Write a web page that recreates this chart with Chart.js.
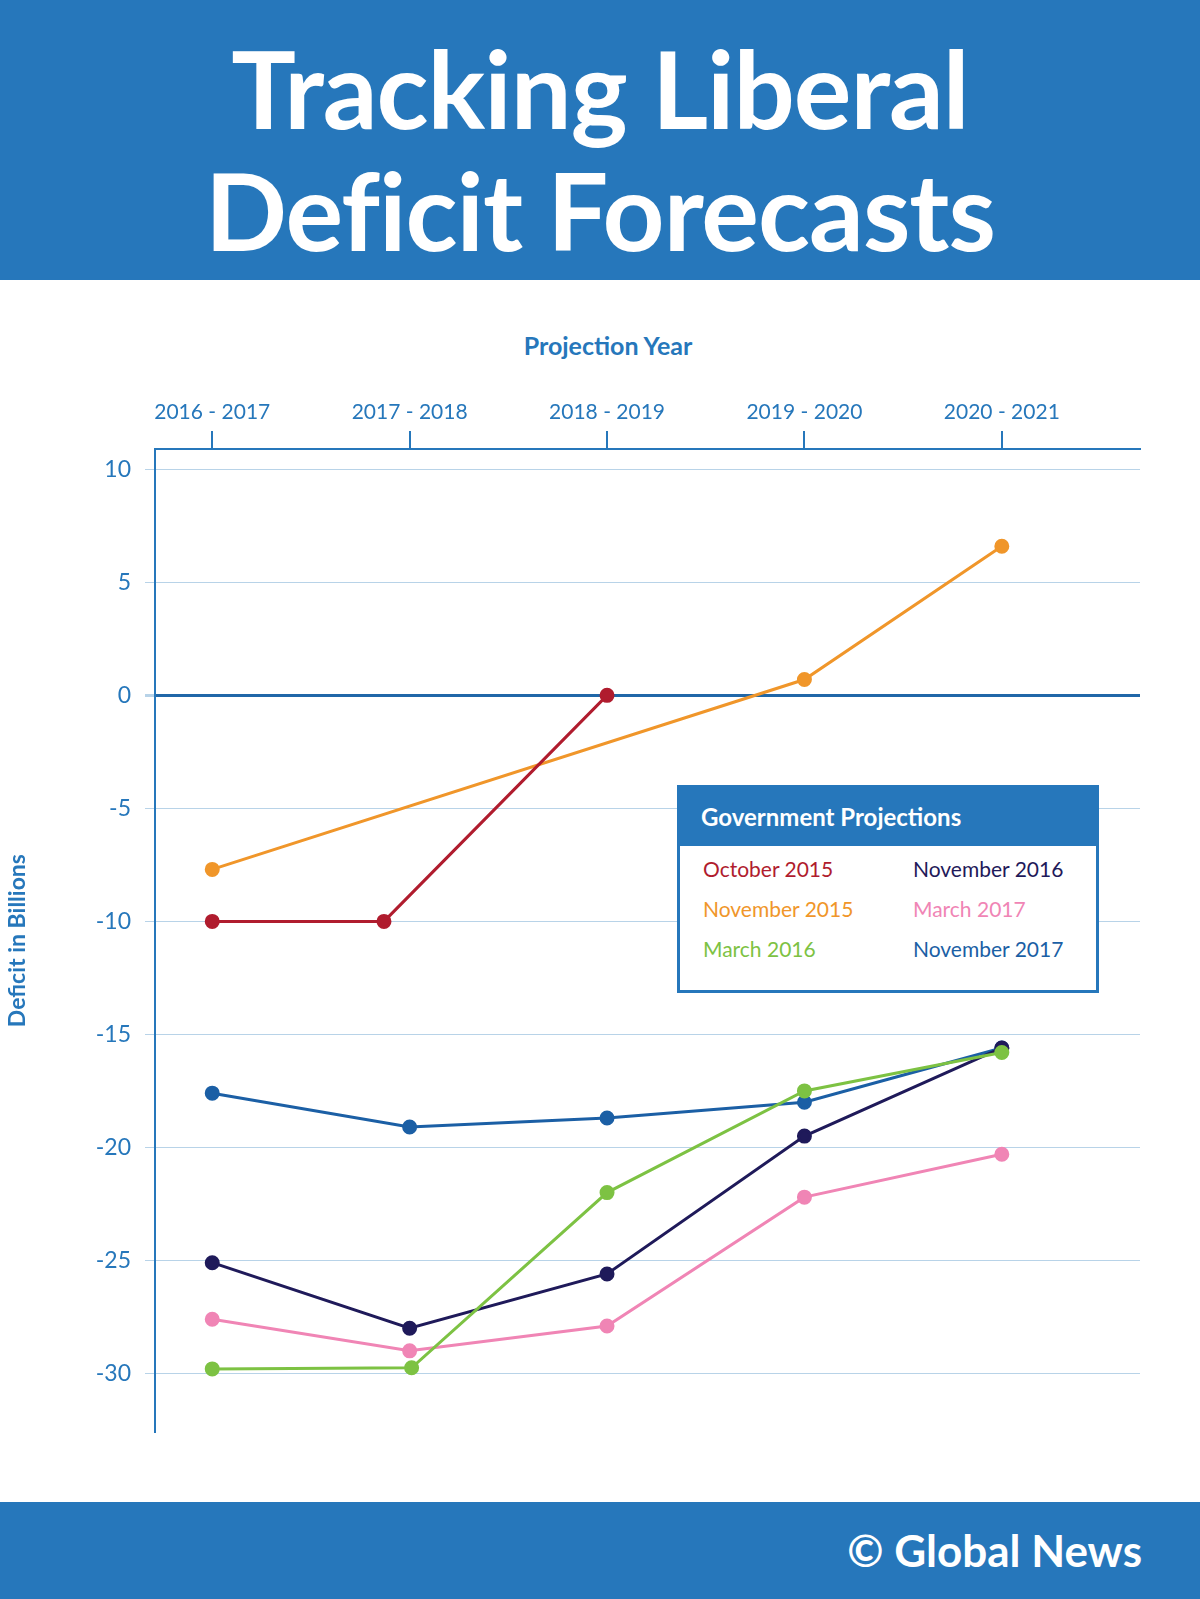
<!DOCTYPE html>
<html><head><meta charset="utf-8">
<script src="https://cdn.jsdelivr.net/npm/chart.js@4"></script>
<style>
body{margin:0;width:1200px;height:1599px;position:relative;background:#fff;font-family:Lato,"Open Sans",sans-serif;overflow:hidden}
#hdr{position:absolute;left:0;top:0;width:1200px;height:280px;background:#2677bb;color:#fff;text-align:center;font-weight:700;font-size:108px;line-height:122px;letter-spacing:-1px}
#hdr div:first-child{padding-top:26px}
#ftr{position:absolute;left:0;top:1502px;width:1200px;height:97px;background:#2677bb;color:#fff}
#ftr span{position:absolute;right:58px;top:22px;font-size:44px;font-weight:700}
#py{position:absolute;top:330px;left:0;width:1216px;text-align:center;color:#2677bb;font-size:25px;font-weight:700}
#wrap{position:absolute;left:0;top:300px;width:1200px;height:1160px}
#leg{position:absolute;left:677px;top:785px;width:416px;height:202px;border:3px solid #2677bb;background:#fff;font-size:21px}
#leg .h{background:#2677bb;color:#fff;height:58px;line-height:58px;padding-left:21px;font-size:24px;font-weight:700}
#leg .g{display:grid;grid-template-columns:210px 200px;padding:10px 0 0 23px;row-gap:15px}
</style></head><body>
<div id="hdr"><div>Tracking Liberal</div><div>Deficit Forecasts</div></div>
<div id="py">Projection Year</div>
<div id="wrap"><canvas id="c"></canvas></div>
<div id="leg"><div class="h">Government Projections</div>
<div class="g">
<div style="color:#b01c2e">October 2015</div><div style="color:#1f1a5a">November 2016</div>
<div style="color:#f0962a">November 2015</div><div style="color:#f085b5">March 2017</div>
<div style="color:#7dc243">March 2016</div><div style="color:#1b5fa5">November 2017</div>
</div></div>
<div id="ftr"><span>© Global News</span></div>
<script>
const categories=["2016 - 2017","2017 - 2018","2018 - 2019","2019 - 2020","2020 - 2021"];
const yTicks=[10,5,0,-5,-10,-15,-20,-25,-30];
const oct2015X=[0,0.87,2], oct2015Y=[-10,-10,0];
const nov2015X=[0,3,4], nov2015Y=[-7.7,0.7,6.6];
const mar2016X=[0,1.01,2,3,4], mar2016Y=[-29.8,-29.75,-22,-17.5,-15.8];
const nov2016X=[0,1,2,3,4], nov2016Y=[-25.1,-28,-25.6,-19.5,-15.6];
const mar2017X=[0,1,2,3,4], mar2017Y=[-27.6,-29,-27.9,-22.2,-20.3];
const nov2017X=[0,1,2,3,4], nov2017Y=[-17.6,-19.1,-18.7,-18,-15.6];
const pts=(xs,ys)=>xs.map((x,i)=>({x,y:ys[i]}));
const ds=(label,xs,ys,c)=>({label,data:pts(xs,ys),borderColor:c,backgroundColor:c,borderWidth:3,pointRadius:6,pointHoverRadius:6,tension:0});
const blue='#2677bb';
new Chart(document.getElementById('c'),{type:'line',
data:{datasets:[ds('October 2015',oct2015X,oct2015Y,'#b01c2e'),ds('November 2015',nov2015X,nov2015Y,'#f0962a'),
ds('March 2016',mar2016X,mar2016Y,'#7dc243'),ds('March 2017',mar2017X,mar2017Y,'#f085b5'),
ds('November 2016',nov2016X,nov2016Y,'#1f1a5a'),ds('November 2017',nov2017X,nov2017Y,'#1b5fa5')]},
options:{responsive:true,maintainAspectRatio:false,animation:false,
layout:{padding:{left:0,right:60,top:0,bottom:15}},
plugins:{legend:{display:false},tooltip:{enabled:false}},
scales:{
x:{type:'linear',position:'top',min:-0.29,max:4.7,
 afterBuildTicks:a=>{a.ticks=categories.map((_,i)=>({value:i}));},
 afterFit:a=>{a.height=149;},
 ticks:{callback:v=>categories[v],color:blue,font:{size:21,family:'Lato'},padding:6,maxRotation:0},
 grid:{drawOnChartArea:false,color:blue,tickLength:18,lineWidth:2},
 border:{color:blue,width:2}},
y:{min:-32.6,max:10.9,
 afterBuildTicks:a=>{a.ticks=yTicks.map(v=>({value:v}));},
 afterFit:a=>{a.width=155;},
 title:{display:true,text:'Deficit in Billions',color:blue,font:{size:23,weight:'bold',family:'Lato'}},
 ticks:{color:blue,font:{size:23,family:'Lato'},padding:14},
 grid:{color:c=>c.tick&&c.tick.value===0?'#2067a8':'#b8d3e8',lineWidth:c=>c.tick&&c.tick.value===0?3:1,drawTicks:true,tickLength:10,tickColor:'#b8d3e8'},
 border:{color:blue,width:2}}}}});
</script></body></html>
